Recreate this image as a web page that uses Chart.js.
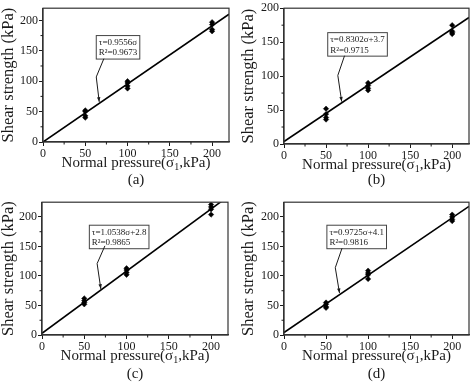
<!DOCTYPE html>
<html>
<head>
<meta charset="utf-8">
<title>Shear strength vs normal pressure</title>
<script src="https://cdn.jsdelivr.net/npm/chart.js@4.4.0/dist/chart.umd.min.js"></script>
<style>
  body { margin: 0; background: #fff; }
  #wrap { position: relative; width: 474px; height: 388px; }
  .panel { position: absolute; width: 237px; height: 194px; }
</style>
</head>
<body>
<div id="wrap">
  <div class="panel" style="left:0;top:0"><canvas id="chartA" width="237" height="194"></canvas></div>
  <div class="panel" style="left:237px;top:0"><canvas id="chartB" width="237" height="194"></canvas></div>
  <div class="panel" style="left:0;top:194px"><canvas id="chartC" width="237" height="194"></canvas></div>
  <div class="panel" style="left:237px;top:194px"><canvas id="chartD" width="237" height="194"></canvas></div>
</div>
<script>
// Test data: 4 readings per normal pressure, one list per sample (a)-(d)
const normalPressure = [50, 50, 50, 50, 100, 100, 100, 100, 200, 200, 200, 200];
const strengthA = [40, 43, 50, 52, 88, 92, 97, 100, 182, 185, 193, 197];
const strengthB = [36, 39, 44, 52, 79, 82, 86, 90, 162, 164, 166, 175];
const strengthC = [52, 55, 58, 62, 102, 106, 110, 113, 204, 213, 217, 221];
const strengthD = [46, 48, 52, 55, 95, 102, 105, 109, 193, 196, 200, 204];

// Fitted lines, end points at sigma = 0 and 220
const fitX = [0, 220];
const fitA = [0, 210.2];
const fitB = [3.7, 186.3];
const fitC = [2.8, 234.6];
const fitD = [4.1, 218.0];

const noteA = ['τ=0.9556σ', 'R²=0.9673'];
const noteB = ['τ=0.8302σ+3.7', 'R²=0.9715'];
const noteC = ['τ=1.0538σ+2.8', 'R²=0.9865'];
const noteD = ['τ=0.9725σ+4.1', 'R²=0.9816'];

const panelLabels = ['(a)', '(b)', '(c)', '(d)'];
const majorTicks = [0, 50, 100, 150, 200];
const minorTicks = [25, 75, 125, 175];
// x title is drawn in pieces so the "1" can sit as a subscript
const xTitleParts = ['Normal pressure(σ', '1', ',kPa)'];
const yTitle = 'Shear strength (kPa)';

const FONT = "'Liberation Serif', 'Times New Roman', serif";
const INK = '#1a1a1a';

// Layout of each panel (canvas is 237x194)
const panels = [
  { id: 'chartA', y: strengthA, fit: fitA, note: noteA, label: panelLabels[0], yMax: 220,
    area: { left: 43, right: 229, top: 4, bottom: 142 }, yPad: 0,
    box: [63, 175], arrow: [[72, 137], [63, 107], [66.5, 66]] },
  { id: 'chartB', y: strengthB, fit: fitB, note: noteB, label: panelLabels[1], yMax: 200,
    area: { left: 47, right: 232, top: 5, bottom: 144 }, yPad: 2.5,
    box: [52, 164], arrow: [[72, 130], [64, 101], [68.6, 62.5]] },
  { id: 'chartC', y: strengthC, fit: fitC, note: noteC, label: panelLabels[2], yMax: 225,
    area: { left: 42, right: 228, top: 3, bottom: 141 }, yPad: 0,
    box: [56, 186], arrow: [[74.4, 151], [65.2, 121], [69.6, 78]] },
  { id: 'chartD', y: strengthD, fit: fitD, note: noteD, label: panelLabels[3], yMax: 225,
    area: { left: 47, right: 232, top: 4, bottom: 141 }, yPad: 2.5,
    box: [51, 186], arrow: [[69, 147], [61, 114], [66, 71]] }
];

// frame on top/right, minor ticks, x title, and the fit equation box with its arrow
const framePlugin = {
  id: 'frameNote',
  afterDatasetsDraw(chart, args, opts) {
    const ctx = chart.ctx;
    const a = chart.chartArea;
    const xs = chart.scales.x, ys = chart.scales.y;
    ctx.save();
    ctx.strokeStyle = '#333';
    ctx.lineWidth = 1.2;
    ctx.strokeRect(a.left, a.top, a.right - a.left, a.bottom - a.top);

    ctx.lineWidth = 1;
    ctx.strokeStyle = INK;
    ctx.beginPath();
    minorTicks.forEach(v => {
      const px = xs.getPixelForValue(v);
      ctx.moveTo(px, a.bottom);
      ctx.lineTo(px, a.bottom + 2.5);
      const py = ys.getPixelForValue(v);
      ctx.moveTo(a.left, py);
      ctx.lineTo(a.left - 2.5, py);
    });
    ctx.stroke();

    // x axis title with subscript
    const big = '15px ' + FONT, small = '10px ' + FONT;
    ctx.font = big;
    const w0 = ctx.measureText(xTitleParts[0]).width;
    const w2 = ctx.measureText(xTitleParts[2]).width;
    ctx.font = small;
    const w1 = ctx.measureText(xTitleParts[1]).width;
    let tx = (xs.left + xs.right) / 2 - (w0 + w1 + w2) / 2;
    const ty = a.bottom + 21;
    ctx.fillStyle = INK;
    ctx.textBaseline = 'middle';
    ctx.textAlign = 'left';
    ctx.font = big;
    ctx.fillText(xTitleParts[0], tx, ty);
    tx += w0;
    ctx.font = small;
    ctx.fillText(xTitleParts[1], tx, ty + 4);
    tx += w1;
    ctx.font = big;
    ctx.fillText(xTitleParts[2], tx, ty);

    // equation box
    ctx.font = '9px ' + FONT;
    const lineH = 10.5, pad = 2.5;
    const w = Math.max(...opts.text.map(t => ctx.measureText(t).width)) + pad * 2;
    const h = lineH * opts.text.length + pad;
    const bx = xs.getPixelForValue(opts.box[0]);
    const by = ys.getPixelForValue(opts.box[1]);
    ctx.fillStyle = '#fff';
    ctx.fillRect(bx, by, w, h);
    ctx.strokeStyle = '#444';
    ctx.strokeRect(bx, by, w, h);
    ctx.fillStyle = INK;
    opts.text.forEach((t, i) => ctx.fillText(t, bx + pad, by + pad / 2 + lineH * (i + 0.5) + 0.5));

    // arrow from box to the line
    const pts = opts.arrow.map(p => [xs.getPixelForValue(p[0]), ys.getPixelForValue(p[1])]);
    ctx.strokeStyle = INK;
    ctx.lineWidth = 1;
    ctx.beginPath();
    pts.forEach((p, i) => i ? ctx.lineTo(p[0], p[1]) : ctx.moveTo(p[0], p[1]));
    ctx.stroke();
    const [p1, p2] = pts.slice(-2);
    const ang = Math.atan2(p2[1] - p1[1], p2[0] - p1[0]);
    ctx.beginPath();
    ctx.moveTo(p2[0], p2[1]);
    ctx.lineTo(p2[0] - 5 * Math.cos(ang - 0.35), p2[1] - 5 * Math.sin(ang - 0.35));
    ctx.lineTo(p2[0] - 5 * Math.cos(ang + 0.35), p2[1] - 5 * Math.sin(ang + 0.35));
    ctx.closePath();
    ctx.fill();
    ctx.restore();
  }
};

function makeChart(p) {
  const ctx = document.getElementById(p.id).getContext('2d');
  return new Chart(ctx, {
    type: 'scatter',
    data: {
      datasets: [
        {
          label: 'fit',
          data: fitX.map((x, i) => ({ x: x, y: p.fit[i] })),
          showLine: true,
          borderColor: '#000',
          borderWidth: 1.6,
          pointRadius: 0
        },
        {
          label: 'test',
          data: normalPressure.map((x, i) => ({ x: x, y: p.y[i] })),
          pointStyle: 'rectRot',
          pointRadius: 2.7,
          backgroundColor: '#000',
          borderColor: '#000',
          borderWidth: 0.5
        }
      ]
    },
    options: {
      responsive: false,
      animation: false,
      events: [],
      layout: { padding: { left: 0, top: p.area.top, right: 237 - p.area.right, bottom: 0 } },
      plugins: {
        legend: { display: false },
        tooltip: { enabled: false },
        frameNote: { text: p.note, box: p.box, arrow: p.arrow }
      },
      scales: {
        x: {
          type: 'linear',
          min: 0,
          max: 220,
          afterBuildTicks: s => { s.ticks = majorTicks.map(v => ({ value: v })); },
          afterFit: s => { s.height = 194 - p.area.bottom; },
          grid: { drawOnChartArea: false, drawTicks: true, tickLength: 4, color: INK },
          border: { display: true, color: '#333', width: 1.2 },
          ticks: { color: INK, padding: 1, maxRotation: 0, autoSkip: false, font: { family: FONT, size: 12 } },
          title: {
            display: true,
            text: p.label,
            color: INK,
            padding: { top: 0, bottom: 5 },
            font: { family: FONT, size: 15, lineHeight: 1.15 }
          }
        },
        y: {
          type: 'linear',
          min: 0,
          max: p.yMax,
          afterBuildTicks: s => { s.ticks = majorTicks.map(v => ({ value: v })); },
          afterFit: s => { s.width = p.area.left; },
          grid: { drawOnChartArea: false, drawTicks: true, tickLength: 4, color: INK },
          border: { display: true, color: '#333', width: 1.2 },
          ticks: { color: INK, padding: 1, autoSkip: false, font: { family: FONT, size: 12 } },
          title: {
            display: true,
            text: yTitle,
            color: INK,
            padding: { top: p.yPad, bottom: 0 },
            font: { family: FONT, size: 16.5, lineHeight: 1.1 }
          }
        }
      }
    },
    plugins: [framePlugin]
  });
}

panels.forEach(makeChart);
</script>
</body>
</html>
